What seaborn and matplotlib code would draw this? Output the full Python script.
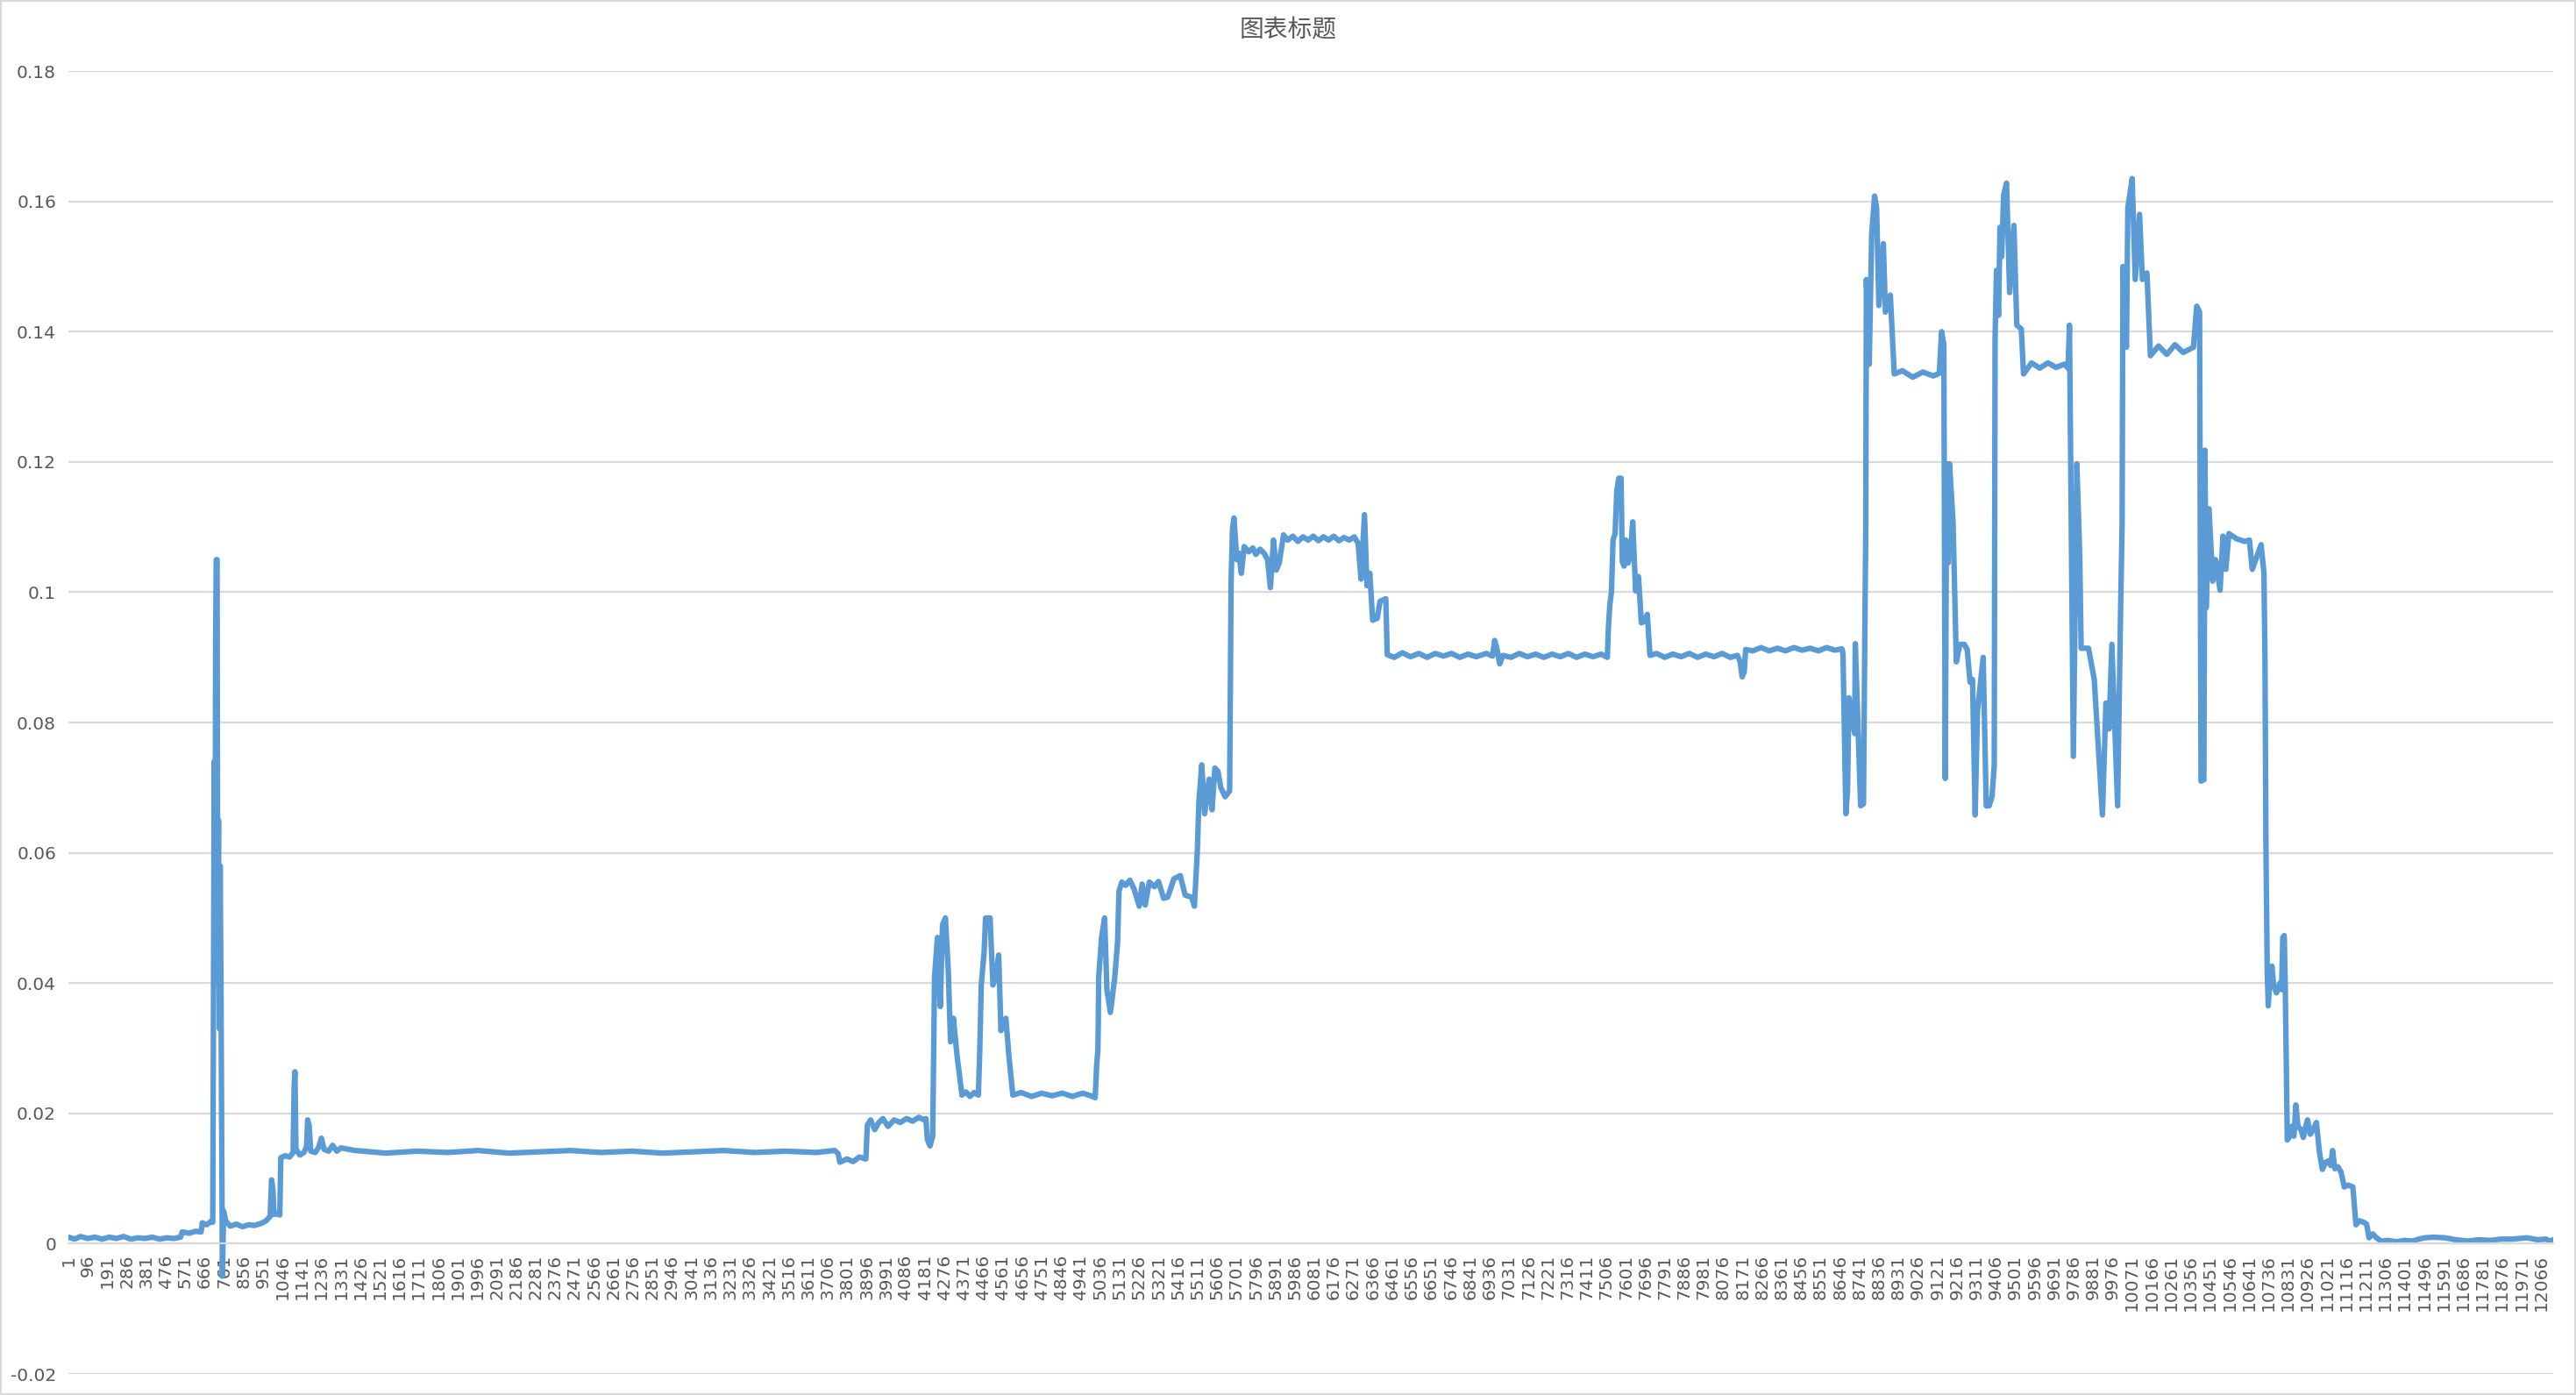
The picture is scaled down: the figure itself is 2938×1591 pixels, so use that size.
import pandas as pd
import seaborn as sns
import matplotlib.pyplot as plt
from matplotlib.patches import Rectangle

idle_start = [(1, 0.0010), (30, 0.0007), (60, 0.0011), (95, 0.0008), (130, 0.0010), (165, 0.0007),
              (200, 0.0010), (235, 0.0008), (270, 0.0011), (305, 0.0007), (340, 0.0009), (375, 0.0008),
              (410, 0.0010), (445, 0.0007), (480, 0.0009), (515, 0.0008), (548, 0.0010), (556, 0.0018),
              (590, 0.0016), (620, 0.0019), (648, 0.0018), (654, 0.0032), (675, 0.0029), (695, 0.0034),
              (705, 0.0033)]
first_spike = [(712, 0.0740), (716, 0.0400), (719, 0.0920), (722, 0.1050), (726, 0.1050), (729, 0.0500),
               (733, 0.0650), (737, 0.0330), (741, 0.0580), (745, 0.0400), (752, -0.0050), (758, 0.0050),
               (768, 0.0035)]
low_level = [(790, 0.0027), (820, 0.0030), (850, 0.0026), (880, 0.0029), (910, 0.0028), (940, 0.0031),
             (965, 0.0035), (985, 0.0042), (992, 0.0098), (998, 0.0085), (1004, 0.0045), (1020, 0.0046),
             (1032, 0.0044), (1037, 0.0132), (1060, 0.0135), (1080, 0.0133), (1097, 0.0140), (1102, 0.0240),
             (1106, 0.0264), (1111, 0.0145), (1130, 0.0136), (1150, 0.0140), (1163, 0.0150), (1168, 0.0190),
             (1175, 0.0182), (1183, 0.0142), (1205, 0.0140), (1222, 0.0148), (1235, 0.0162), (1248, 0.0145),
             (1270, 0.0142), (1290, 0.0151), (1310, 0.0142), (1330, 0.0147)]
flat_014 = [(1400, 0.0143), (1550, 0.0139), (1700, 0.0142), (1850, 0.0140), (2000, 0.0143), (2150, 0.0139),
            (2300, 0.0141), (2450, 0.0143), (2600, 0.0140), (2750, 0.0142), (2900, 0.0139), (3050, 0.0141),
            (3200, 0.0143), (3350, 0.0140), (3500, 0.0142), (3650, 0.0140), (3740, 0.0143), (3757, 0.0138),
            (3765, 0.0125), (3800, 0.0130), (3830, 0.0126), (3860, 0.0133), (3892, 0.0130)]
two_pulses = [(3899, 0.0182), (3915, 0.0190), (3935, 0.0175), (3955, 0.0186), (3975, 0.0192), (4000, 0.0180),
              (4030, 0.0190), (4060, 0.0186), (4090, 0.0192), (4120, 0.0188), (4150, 0.0194), (4175, 0.0190),
              (4185, 0.0192), (4192, 0.0160), (4205, 0.0150), (4218, 0.0165), (4227, 0.0409), (4241, 0.0470),
              (4255, 0.0364), (4266, 0.0490), (4280, 0.0500), (4294, 0.0420), (4305, 0.0310), (4319, 0.0346),
              (4337, 0.0288), (4361, 0.0228), (4380, 0.0233), (4400, 0.0226), (4420, 0.0232), (4441, 0.0228),
              (4448, 0.0300), (4455, 0.0397), (4469, 0.0448), (4476, 0.0500), (4498, 0.0500), (4512, 0.0397),
              (4526, 0.0410), (4540, 0.0443), (4551, 0.0327), (4575, 0.0346), (4590, 0.0288), (4609, 0.0228)]
flat_023 = [(4650, 0.0232), (4700, 0.0226), (4750, 0.0231), (4800, 0.0227), (4850, 0.0231), (4900, 0.0226),
            (4950, 0.0231), (4990, 0.0227), (5011, 0.0224)]
ramp_up = [(5018, 0.0274), (5024, 0.0297), (5026, 0.0337), (5028, 0.0409), (5042, 0.0470), (5057, 0.0500),
           (5068, 0.0390), (5085, 0.0355), (5106, 0.0407), (5120, 0.0462), (5127, 0.0541), (5141, 0.0555),
           (5160, 0.0550), (5180, 0.0558), (5200, 0.0545), (5226, 0.0518), (5240, 0.0552), (5255, 0.0520),
           (5275, 0.0555), (5300, 0.0548), (5320, 0.0556), (5345, 0.0530), (5365, 0.0532), (5395, 0.0560),
           (5426, 0.0565), (5450, 0.0535), (5481, 0.0532), (5495, 0.0518), (5502, 0.0560), (5509, 0.0600),
           (5517, 0.0679), (5531, 0.0735), (5545, 0.0660), (5567, 0.0713), (5581, 0.0666), (5595, 0.0730),
           (5610, 0.0725), (5624, 0.0700), (5645, 0.0686), (5667, 0.0695)]
plateau_108 = [(5674, 0.1016), (5681, 0.1097), (5688, 0.1114), (5702, 0.1050), (5712, 0.1060), (5724, 0.1029),
               (5738, 0.1070), (5760, 0.1062), (5780, 0.1068), (5795, 0.1058), (5815, 0.1066), (5835, 0.1060),
               (5852, 0.1050), (5866, 0.1007), (5881, 0.1080), (5895, 0.1034), (5909, 0.1045), (5930, 0.1088),
               (5950, 0.1080), (5975, 0.1086), (6000, 0.1078), (6025, 0.1085), (6050, 0.1080), (6075, 0.1086),
               (6100, 0.1079), (6125, 0.1085), (6150, 0.1080), (6175, 0.1086), (6200, 0.1079), (6225, 0.1084),
               (6250, 0.1080), (6275, 0.1085), (6294, 0.1075), (6308, 0.1020), (6325, 0.1119), (6337, 0.1010),
               (6351, 0.1029), (6365, 0.0957), (6387, 0.0960), (6401, 0.0986), (6429, 0.0990)]
plateau_090 = [(6436, 0.0904), (6470, 0.0900), (6510, 0.0907), (6550, 0.0901), (6590, 0.0906),
               (6630, 0.0900), (6670, 0.0906), (6710, 0.0902), (6750, 0.0906), (6790, 0.0900), (6830, 0.0905),
               (6870, 0.0901), (6920, 0.0906), (6950, 0.0902), (6960, 0.0926), (6970, 0.0915), (6985, 0.0890),
               (7000, 0.0903), (7040, 0.0900), (7080, 0.0906), (7120, 0.0901), (7160, 0.0905), (7200, 0.0900),
               (7240, 0.0905), (7280, 0.0901), (7320, 0.0906), (7360, 0.0900), (7400, 0.0905), (7440, 0.0901),
               (7480, 0.0905), (7510, 0.0900)]
middle_bump = [(7515, 0.0944), (7522, 0.0980), (7530, 0.1000), (7538, 0.1080), (7548, 0.1090),
               (7556, 0.1155), (7566, 0.1175), (7577, 0.1175), (7583, 0.1047), (7592, 0.1040), (7600, 0.1080),
               (7612, 0.1045), (7622, 0.1060), (7634, 0.1108), (7648, 0.1002), (7662, 0.1024), (7676, 0.0953),
               (7690, 0.0955), (7705, 0.0966), (7718, 0.0903), (7750, 0.0906), (7790, 0.0900), (7830, 0.0905),
               (7870, 0.0901), (7910, 0.0906), (7950, 0.0900), (7990, 0.0905), (8030, 0.0901), (8070, 0.0906),
               (8110, 0.0900), (8145, 0.0903), (8158, 0.0893), (8168, 0.0870), (8178, 0.0878), (8185, 0.0912),
               (8220, 0.0910), (8260, 0.0915), (8300, 0.0910), (8340, 0.0914), (8380, 0.0910), (8420, 0.0915),
               (8460, 0.0911), (8500, 0.0914), (8540, 0.0910), (8580, 0.0915), (8620, 0.0911), (8655, 0.0913)]
cycles = [(8660, 0.0905), (8674, 0.0660), (8682, 0.0695), (8689, 0.0838), (8717, 0.0783), (8720, 0.0921),
          (8746, 0.0672), (8760, 0.0675), (8767, 0.0955), (8771, 0.1093), (8774, 0.1480), (8788, 0.1350),
          (8800, 0.1550), (8814, 0.1608), (8824, 0.1590), (8835, 0.1440), (8857, 0.1535), (8867, 0.1430),
          (8891, 0.1456), (8910, 0.1335), (8950, 0.1340), (9000, 0.1330), (9050, 0.1338), (9100, 0.1332),
          (9130, 0.1336), (9141, 0.1400), (9152, 0.1380), (9159, 0.0714), (9166, 0.1197), (9173, 0.1045),
          (9180, 0.1197), (9197, 0.1107), (9213, 0.0893), (9230, 0.0920), (9252, 0.0920), (9266, 0.0912),
          (9280, 0.0862), (9292, 0.0866), (9305, 0.0658), (9316, 0.0817), (9344, 0.0900), (9359, 0.0672),
          (9373, 0.0672), (9387, 0.0686), (9398, 0.0734), (9402, 0.1390), (9409, 0.1494), (9419, 0.1425),
          (9426, 0.1560), (9434, 0.1515), (9444, 0.1610), (9458, 0.1628), (9473, 0.1460), (9494, 0.1563),
          (9508, 0.1410), (9530, 0.1404), (9541, 0.1335), (9580, 0.1352), (9620, 0.1344), (9660, 0.1352),
          (9700, 0.1345), (9740, 0.1350), (9758, 0.1344), (9765, 0.1410), (9784, 0.0748), (9801, 0.1197),
          (9815, 0.1059), (9822, 0.0914), (9858, 0.0914), (9886, 0.0866), (9926, 0.0658), (9943, 0.0830),
          (9958, 0.0790), (9972, 0.0920), (10000, 0.0672), (10014, 0.0962), (10022, 0.1107), (10026, 0.1500),
          (10043, 0.1376), (10050, 0.1590), (10071, 0.1635), (10086, 0.1480), (10107, 0.1580),
          (10121, 0.1480), (10143, 0.1490), (10160, 0.1363), (10200, 0.1378), (10240, 0.1365),
          (10280, 0.1380), (10320, 0.1368), (10370, 0.1376), (10386, 0.1439), (10400, 0.1430),
          (10407, 0.0710), (10421, 0.0712), (10426, 0.1218), (10432, 0.0976), (10446, 0.1128),
          (10464, 0.1017), (10478, 0.1050), (10500, 0.1003), (10514, 0.1086), (10528, 0.1035),
          (10543, 0.1090), (10580, 0.1082), (10620, 0.1078), (10643, 0.1080), (10657, 0.1035),
          (10700, 0.1073), (10714, 0.1030)]
ramp_down = [(10719, 0.0900), (10724, 0.0600), (10730, 0.0420), (10735, 0.0365), (10742, 0.0400),
             (10753, 0.0426), (10762, 0.0395), (10775, 0.0385), (10792, 0.0400), (10800, 0.0390),
             (10806, 0.0470), (10813, 0.0473), (10818, 0.0397), (10828, 0.0159), (10840, 0.0165),
             (10850, 0.0180), (10860, 0.0165), (10870, 0.0213), (10880, 0.0180), (10895, 0.0175),
             (10906, 0.0163), (10918, 0.0180), (10927, 0.0190), (10940, 0.0168), (10955, 0.0175),
             (10970, 0.0186), (10985, 0.0140), (10999, 0.0114), (11015, 0.0125), (11030, 0.0127),
             (11040, 0.0120), (11049, 0.0143), (11060, 0.0115), (11075, 0.0118), (11090, 0.0110),
             (11106, 0.0087), (11125, 0.0090), (11148, 0.0087), (11163, 0.0029), (11180, 0.0035),
             (11200, 0.0033), (11215, 0.0030), (11227, 0.0009), (11245, 0.0015), (11260, 0.0010)]
idle_end = [(11284, 0.0004), (11320, 0.0005), (11360, 0.0003), (11400, 0.0005), (11440, 0.0004),
            (11470, 0.0007), (11498, 0.0009), (11540, 0.0010), (11597, 0.0009), (11650, 0.0006),
            (11712, 0.0004), (11760, 0.0006), (11820, 0.0005), (11870, 0.0007), (11925, 0.0007),
            (11997, 0.0009), (12050, 0.0006), (12090, 0.0007), (12111, 0.0004), (12125, 0.0006)]

n_points = 12125
tick_step = 95
y_ticks = [-0.02, 0.0, 0.02, 0.04, 0.06, 0.08, 0.1, 0.12, 0.14, 0.16, 0.18]
y_tick_labels = ["-0.02", "0", "0.02", "0.04", "0.06", "0.08", "0.1", "0.12", "0.14", "0.16", "0.18"]
chart_title = "图表标题"

segments = [idle_start, first_spike, low_level, flat_014, two_pulses, flat_023, ramp_up,
            plateau_108, plateau_090, middle_bump, cycles, ramp_down, idle_end]
df = pd.DataFrame([p for seg in segments for p in seg], columns=["n", "value"])

sns.set_style("white")
plt.rcParams["font.family"] = ["DejaVu Sans", "Noto Sans CJK SC"]

text_grey = "#595959"
grid_grey = "#D9D9D9"

fig = plt.figure(figsize=(29.38, 15.91), dpi=100)
ax = fig.add_axes([0.02655, 0.01508, 0.9646, 0.934])

sns.lineplot(data=df, x="n", y="value", ax=ax, color="#5B9BD5", linewidth=4.5,
             sort=False, estimator=None)

ax.set_xlim(0.5, n_points + 0.5)
ax.set_ylim(-0.02, 0.18)

# ось X проходит через ноль, как в Excel (ставим до настройки подписей)
for side in ["top", "left", "right"]:
    ax.spines[side].set_visible(False)
ax.spines["bottom"].set_position(("data", 0))
ax.spines["bottom"].set_color(grid_grey)
ax.spines["bottom"].set_linewidth(1.6)

x_ticks = list(range(1, n_points + 1, tick_step))
ax.set_xticks(x_ticks)
ax.set_xticklabels([str(t) for t in x_ticks])
ax.set_yticks(y_ticks)
ax.set_yticklabels(y_tick_labels)
ax.set_xlabel("")
ax.set_ylabel("")

ax.grid(axis="y", color=grid_grey, linewidth=1.6)
ax.grid(axis="x", visible=False)
ax.set_axisbelow(True)

ax.tick_params(axis="x", length=0, pad=9, labelsize=14.5, labelcolor=text_grey, labelrotation=90)
ax.tick_params(axis="y", length=0, pad=10, labelsize=14.5, labelcolor=text_grey)

fig.text(0.5, 1 - 34 / 1591, chart_title, ha="center", va="center", fontsize=20,
         color=text_grey, family=["Noto Sans CJK SC", "DejaVu Sans"])

fig.patches.append(Rectangle((0, 0), 1, 1, transform=fig.transFigure, fill=False,
                             edgecolor=grid_grey, linewidth=3))

fig.savefig("out.png", dpi=100)
